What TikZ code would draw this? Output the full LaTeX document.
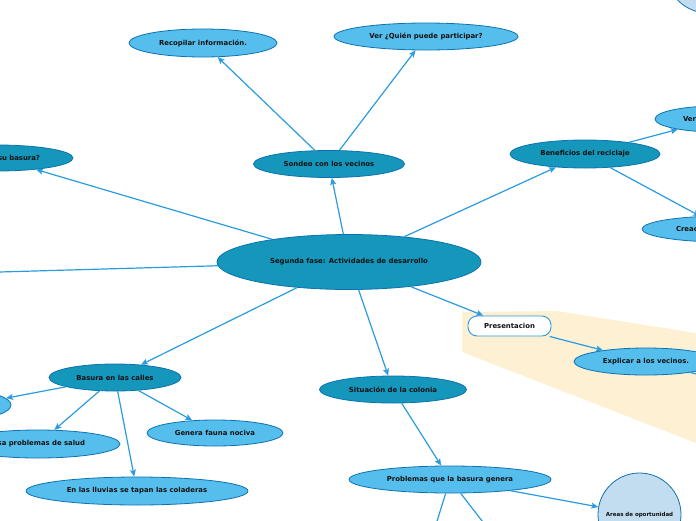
\documentclass[tikz,border=0pt]{standalone}
\usepackage{fontspec}
\setmainfont{DejaVu Sans}
\usetikzlibrary{shapes.geometric,arrows.meta}
\definecolor{dark}{HTML}{1497BB}
\definecolor{light}{HTML}{56BEED}
\definecolor{bord}{HTML}{0E72B0}
\definecolor{conn}{HTML}{2B9BE0}
\definecolor{beige}{HTML}{FDF0D3}
\definecolor{pale}{HTML}{C2DDF0}
\definecolor{txt}{HTML}{111111}
\begin{document}
\begin{tikzpicture}[x=1pt,y=-1pt,
  lbl/.style={font=\fontsize{6.9}{8}\selectfont\bfseries, text=txt},
  base/.style={ellipse, draw=bord, line width=0.8pt, inner sep=0pt, lbl},
  darknode/.style={base, fill=dark},
  lightnode/.style={base, fill=light},
  bubble/.style={circle, draw=bord, line width=0.8pt, fill=pale, inner sep=0pt},
  link/.style={draw=conn, line width=1.2pt, -{Stealth[length=7pt,width=6pt,inset=1.5pt]}},
  ]
\useasboundingbox (0,0) rectangle (696,520);
\clip (0,0) rectangle (696,520);
% highlight band
\fill[beige] (462,312) -- (557,311) -- (800,349.5) -- (800,483.5) -- (462,352) -- cycle;

% nodes
\node[darknode, minimum width=264pt, minimum height=55pt] (center) at (349,262) {Segunda fase: Actividades de desarrollo};
\node[darknode, minimum width=151pt, minimum height=27pt] (sondeo) at (329,164) {Sondeo con los vecinos};
\node[lightnode, minimum width=148pt, minimum height=28pt] (recop) at (203,43) {Recopilar información.};
\node[lightnode, minimum width=184pt, minimum height=27pt] (quien) at (426,36.5) {Ver ¿Quién puede participar?};
\node[darknode, minimum width=152pt, minimum height=26pt, text width=86pt, align=right] (subas) at (-3,158) {su basura?};
\node[darknode, minimum width=150pt, minimum height=28pt] (benef) at (585,154) {Beneficios del reciclaje};
\node[lightnode, minimum width=124pt, minimum height=26pt, text width=68pt, align=left] (vern) at (717,119) {Ver};
\node[lightnode, minimum width=164pt, minimum height=26pt, text width=96pt, align=left] (creac) at (724,229) {Creac};
\node[bubble, minimum size=84pt] (topc) at (708,-29) {};
\node[rectangle, rounded corners=9pt, draw=conn, fill=white, line width=0.9pt, minimum width=83pt, minimum height=20pt, inner sep=0pt, lbl] (pres) at (509.5,326) {Presentacion};
\node[lightnode, minimum width=144pt, minimum height=27pt] (expl) at (646,361.5) {Explicar a los vecinos.};
\node[darknode, minimum width=147pt, minimum height=27pt] (situ) at (393,389.5) {Situación de la colonia};
\node[lightnode, minimum width=202pt, minimum height=27pt] (probl) at (450,479.5) {Problemas que la basura genera};
\node[bubble, minimum size=83pt, font=\fontsize{5.5}{6.5}\selectfont\bfseries, text=txt] (areas) at (639.5,514.5) {Areas de oportunidad};
\node[darknode, minimum width=132pt, minimum height=27pt] (basura) at (115,377.5) {Basura en las calles};
\node[lightnode, minimum width=82pt, minimum height=27pt] (leftc) at (-30,405) {};
\node[lightnode, minimum width=164pt, minimum height=28pt, text width=94pt, align=right] (causa) at (38,444) {sa problemas de salud};
\node[lightnode, minimum width=136pt, minimum height=26pt] (fauna) at (215,433) {Genera fauna nociva};
\node[lightnode, minimum width=222pt, minimum height=28pt] (lluv) at (137,491) {En las lluvias se tapan las coladeras};

\coordinate (leftoff) at (-200,277.7);
\coordinate (explc) at (846,411);
\coordinate (pc1) at (419,579);
\coordinate (pc2) at (527,579);

% connectors
\draw[link] (center) -- (sondeo);
\draw[link] (sondeo) -- (recop);
\draw[link] (sondeo) -- (quien);
\draw[link] (center) -- (subas);
\draw[link] (center) -- (leftoff);
\draw[link] (center) -- (benef);
\draw[link] (benef) -- (vern);
\draw[link] (benef) -- (creac);
\draw[link] (center) -- (pres);
\draw[link] (pres) -- (expl);
\draw[link] (expl) -- (explc);
\draw[link] (center) -- (situ);
\draw[link] (situ) -- (probl);
\draw[link] (probl) -- (areas);
\draw[link] (probl) -- (pc1);
\draw[link] (probl) -- (pc2);
\draw[link] (center) -- (basura);
\draw[link] (basura) -- (leftc);
\draw[link] (basura) -- (causa);
\draw[link] (basura) -- (fauna);
\draw[link] (basura) -- (lluv);
\end{tikzpicture}
\end{document}
